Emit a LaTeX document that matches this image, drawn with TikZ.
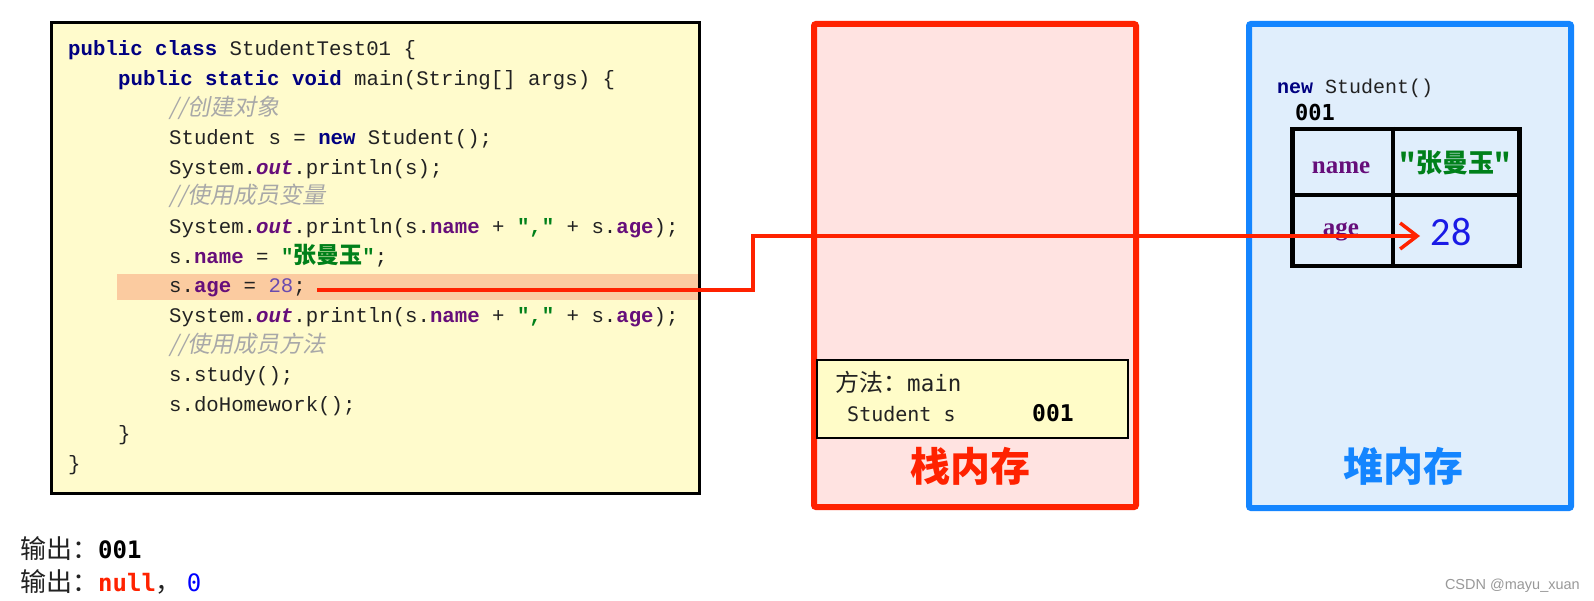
\documentclass[tikz,border=0pt]{standalone}
\usepackage{fontspec}
\usetikzlibrary{arrows.meta}
\newfontfamily\codefont{Liberation Mono}
\newfontfamily\cjk{Noto Sans CJK SC}
\newfontfamily\cjkit[FakeSlant=0.2]{Noto Sans CJK SC}
\newfontfamily\smono{DejaVu Sans Mono}
\newfontfamily\calib{Carlito}
\newfontfamily\tnr{Liberation Serif}
\newfontfamily\lsans{Liberation Sans}
\definecolor{codebg}{HTML}{FFFBCC}
\definecolor{bandc}{HTML}{FBCBA0}
\definecolor{stackbg}{HTML}{FFE3E1}
\definecolor{heapbg}{HTML}{E0EEFC}
\definecolor{redc}{HTML}{FF2200}
\definecolor{bluec}{HTML}{1485FF}
\definecolor{framebg}{HTML}{FFFCC8}
\definecolor{kwc}{HTML}{000080}
\definecolor{fldc}{HTML}{660E7A}
\definecolor{strc}{HTML}{00801A}
\definecolor{numc}{HTML}{6A4BAF}
\definecolor{cmtc}{HTML}{A8A8A8}
\definecolor{txtc}{HTML}{222222}
\definecolor{blue28}{HTML}{1A1AE6}
\newcommand\kw[1]{{\color{kwc}\bfseries #1}}
\newcommand\fld[1]{{\color{fldc}\bfseries #1}}
\newcommand\outf{{\color{fldc}\bfseries\itshape out}}
\newcommand\strq[1]{{\color{strc}\bfseries #1}}
\newcommand\numc[1]{{\color{numc}#1}}
\newcommand\cmt[1]{{\color{cmtc}\cjkit\fontsize{23}{24}\selectfont #1}}
\tikzset{
  codeline/.style={anchor=base west, inner sep=0pt, font=\codefont\fontsize{20.7}{24}\selectfont, text=txtc},
  plain/.style={inner sep=0pt},
  memlabel/.style={inner sep=0pt, font=\cjk\bfseries\fontsize{40}{40}\selectfont},
}
\begin{document}
\begin{tikzpicture}[x=1pt,y=-1pt]
\useasboundingbox (0,0) rectangle (1594,601);
\fill[white] (0,0) rectangle (1594,601);
% code box
\node[draw=black, line width=2pt, fill=codebg, minimum width=647pt, minimum height=470pt, anchor=north west, inner sep=0pt] (codebox) at (51,22) {};
\fill[bandc] (117,274) rectangle (698,300);
\draw[line width=2pt] (codebox.north west) rectangle (codebox.south east);
% code lines
\node[codeline] (l0) at (68,56) {\kw{public class} StudentTest01 \{};
\node[codeline] (l1) at (118,85.6) {\kw{public static void} main(String[] args) \{};
\node[codeline] (l2) at (169,115.2) {\cmt{//创建对象}};
\node[codeline] (l3) at (169,144.8) {Student s = \kw{new} Student();};
\node[codeline] (l4) at (169,174.4) {System.\outf.println(s);};
\node[codeline] (l5) at (169,204) {\cmt{//使用成员变量}};
\node[codeline] (l6) at (169,233.6) {System.\outf.println(s.\fld{name} + \strq{","} + s.\fld{age});};
\node[codeline] (l7) at (169,263.2) {s.\fld{name} = \strq{"{\cjk\fontsize{23}{24}\selectfont 张曼玉}"};};
\node[codeline] (l8) at (169,292.8) {s.\fld{age} = \numc{28};};
\node[codeline] (l9) at (169,322.4) {System.\outf.println(s.\fld{name} + \strq{","} + s.\fld{age});};
\node[codeline] (l10) at (169,352) {\cmt{//使用成员方法}};
\node[codeline] (l11) at (169,381.6) {s.study();};
\node[codeline] (l12) at (169,411.2) {s.doHomework();};
\node[codeline] (l13) at (118,440.8) {\}};
\node[codeline] (l14) at (68,470.4) {\}};
% stack
\node[draw=redc, line width=6pt, fill=stackbg, rounded corners=2pt, minimum width=322pt, minimum height=483pt, anchor=north west, inner sep=0pt] (stack) at (811,21) {};
\node[draw=black, line width=2pt, fill=framebg, minimum width=311pt, minimum height=78pt, anchor=north west, inner sep=0pt] (frame) at (816,359) {};
\node[plain, anchor=base west, text=txtc] (fm) at (835,391) {{\cjk\fontsize{24}{24}\selectfont 方法：}{\smono\fontsize{22.5}{24}\selectfont main}};
\node[plain, anchor=base west, text=txtc, font=\smono\fontsize{20}{24}\selectfont] (svar) at (847,421) {Student s};
\node[plain, anchor=base west, text=black, font=\smono\bfseries\fontsize{23}{24}\selectfont] (sval) at (1032,421) {001};
\node[memlabel, text=redc] (stacklbl) at (970,466) {栈内存};
% heap
\node[draw=bluec, line width=6pt, fill=heapbg, rounded corners=2pt, minimum width=322pt, minimum height=484pt, anchor=north west, inner sep=0pt] (heap) at (1246,21) {};
\node[plain, anchor=base west, text=txtc, font=\codefont\fontsize{20}{24}\selectfont] (newst) at (1277,94) {\kw{new} Student()};
\node[plain, anchor=base west, text=black, font=\smono\bfseries\fontsize{22}{24}\selectfont] (haddr) at (1295,121) {001};
\node[draw=black, line width=4.5pt, minimum width=227pt, minimum height=137pt, anchor=north west, inner sep=0pt] (obj) at (1290,127) {};
\draw[line width=4.5pt] (1393,127) -- (1393,264);
\draw[line width=4.5pt] (1290,195) -- (1517,195);
\node[plain, text=fldc, font=\tnr\bfseries\fontsize{25}{25}\selectfont] (fname) at (1341,168) {name};
\node[plain, text=strc, font=\cjk\bfseries\fontsize{26}{26}\selectfont] (fnamev) at (1455,163) {"张曼玉"};
\node[plain, text=fldc, font=\tnr\bfseries\fontsize{25}{25}\selectfont] (fage) at (1341,232) {age};
\node[plain, text=blue28, font=\calib\fontsize{40}{40}\selectfont] (fagev) at (1451,232) {28};
\node[memlabel, text=bluec] (heaplbl) at (1403,466) {堆内存};
% arrow
\coordinate (astart) at (317,290);
\coordinate (aend) at (1420,236);
\draw[redc, line width=3.5pt, -{Straight Barb[length=17pt,width=26pt,line width=3.5pt]}] (astart) -- (753,290) -- (753,236) -- (aend);
% output
\node[plain, anchor=base west, text=txtc] (out1) at (20,558) {{\cjk\fontsize{26}{26}\selectfont 输出：}{\smono\bfseries\fontsize{24}{26}\selectfont\color{black}001}};
\node[plain, anchor=base west, text=txtc] (out2) at (20,591) {{\cjk\fontsize{26}{26}\selectfont 输出：}{\smono\bfseries\fontsize{24}{26}\selectfont\color{redc}null}{\cjk\fontsize{26}{26}\selectfont ，}\hspace{5pt}{\smono\fontsize{24}{26}\selectfont\color{blue}0}};
\node[plain, anchor=base east, text=black!40, font=\lsans\fontsize{14.5}{16}\selectfont] (wm) at (1580,589) {CSDN @mayu\_xuan};
\end{tikzpicture}
\end{document}
